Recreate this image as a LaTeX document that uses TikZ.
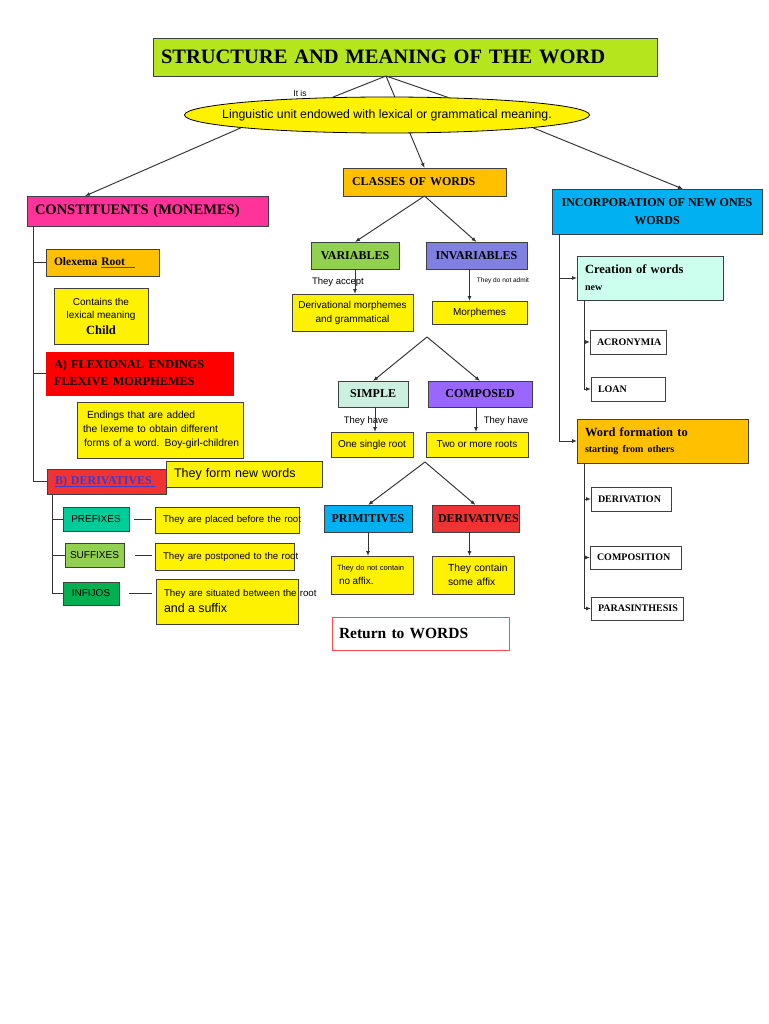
\documentclass[tikz,border=0pt]{standalone}
\usepackage{fontspec}
\setmainfont{Liberation Serif}
\setsansfont{Liberation Sans}
\usetikzlibrary{arrows.meta,shapes.geometric}

\definecolor{limeg}{RGB}{181,230,29}
\definecolor{magentab}{RGB}{255,51,153}
\definecolor{orangeb}{RGB}{255,192,0}
\definecolor{redb}{RGB}{255,0,0}
\definecolor{redc}{RGB}{240,50,50}
\definecolor{ulblue}{RGB}{60,60,210}
\definecolor{tealb}{RGB}{0,204,153}
\definecolor{lgreen}{RGB}{146,208,80}
\definecolor{dgreen}{RGB}{0,176,80}
\definecolor{purpb}{RGB}{128,128,224}
\definecolor{mintb}{RGB}{204,240,224}
\definecolor{violb}{RGB}{153,102,255}
\definecolor{skyb}{RGB}{0,176,240}
\definecolor{aquab}{RGB}{204,255,238}

\newcommand{\fsz}[2]{\fontsize{#1}{#2}\selectfont}
\newcommand{\bul}[1]{\setbox0=\hbox{#1}\rlap{\textcolor{ulblue}{\rule[-2.5pt]{\wd0}{0.7pt}}}#1}

\tikzset{
  box/.style={draw=black!75, line width=0.8pt, anchor=north west, inner sep=0pt, outer sep=0pt, font=\sffamily\fsz{10}{12}},
  hd/.style={font=\rmfamily\bfseries\fsz{#1}{#1}},
  conn/.style={draw=black!80, line width=0.95pt},
  arr/.style={conn, -{Latex[length=5pt,width=4pt]}},
  lbl/.style={inner sep=0pt, font=\sffamily\fsz{#1}{#1}},
}

\begin{document}
\begin{tikzpicture}[x=1pt, y=-1pt]
  \useasboundingbox[fill=white] (0,0) rectangle (768,1024);

  % top
  \node[box, fill=limeg, text width=488pt, inner xsep=8pt, align=left, minimum height=38pt, hd=20.5] (title) at (153,38) {STRUCTURE AND MEANING OF THE WORD};
  \node[box, fill=orangeb, text width=145pt, inner xsep=9pt, align=left, minimum height=28pt, hd=12] (classes) at (343,168) {CLASSES OF WORDS};
  \coordinate (tpt) at ([xshift=-19pt]title.south);
  \draw[arr] (tpt) -- (classes.north);
  \node[ellipse, draw=black, line width=0.8pt, fill=yellow, minimum width=405pt, minimum height=36pt, inner sep=0pt, font=\sffamily\fsz{12.3}{14}] (unit) at (387,115) {\makebox[0pt]{Linguistic unit endowed with lexical or grammatical meaning.}};
  \node[lbl=8.5] (itis) at (300,93) {It is};
  \draw[conn] (tpt) -- (unit.162);
  \draw[conn] (tpt) -- (unit.16);

  % constituents
  \node[box, fill=magentab, text width=225pt, inner xsep=8pt, align=left, minimum height=30pt, hd=14.5] (cons) at (27,196) {CONSTITUENTS (MONEMES)};
  \draw[arr] (unit.185) -- ([xshift=58pt]cons.north west);

  \node[box, fill=orangeb, text width=97pt, inner xsep=8pt, align=left, minimum height=27pt, hd=11.5] (root) at (46,249) {Olexema \bul{Root\hspace{10pt}}};
  \node[box, fill=yellow, minimum width=94pt, minimum height=56pt, align=center, font=\sffamily\fsz{10}{13}] (lexmean) at (54,288) {Contains the\\lexical meaning\\[3pt]{\rmfamily\bfseries\fsz{12.5}{14}Child}};
  \node[box, draw=redb, fill=redb, text width=171pt, inner xsep=8pt, align=left, minimum height=43pt, font=\rmfamily\bfseries\fsz{12.3}{17}] (flex) at (46,352) {A) FLEXIONAL ENDINGS\\F\bul{LEXIVE MORPHEMES\hspace{6pt}}};
  \node[box, fill=yellow, text width=154pt, inner xsep=6pt, align=left, minimum height=56pt, font=\sffamily\fsz{10.3}{14}] (endings) at (77,402) {\mbox{\hspace*{4pt}Endings that are added}\\\mbox{the lexeme to obtain different}\\\mbox{\hspace*{1pt}forms of a word. Boy-girl-children}};
  \node[box, fill=redc, text width=103pt, inner xsep=8pt, align=left, minimum height=25pt, hd=12] (bder) at (47,469) {\textcolor{ulblue}{\mbox{\bul{B) DERIVATIVES\hspace{3pt}}}}};
  \node[box, fill=yellow, text width=140pt, inner xsep=8pt, align=left, minimum height=26pt, font=\sffamily\fsz{12.5}{14}] (formnew) at (166,461) {They form new words};

  \coordinate (cstem) at ([xshift=6pt]cons.south west);
  \draw[conn] (cstem) |- (bder.west);
  \draw[conn] (cstem |- root.west) -- (root.west);
  \draw[conn] (cstem |- flex.west) -- (flex.west);

  \node[box, fill=tealb, minimum width=66pt, minimum height=24pt] (pre) at (63,507) {PREFIXES};
  \node[box, fill=lgreen, minimum width=59pt, minimum height=24pt] (suf) at (65,543) {SUFFIXES};
  \node[box, fill=dgreen, minimum width=56pt, minimum height=23pt] (inf) at (63,582) {INFIJOS};
  \node[box, fill=yellow, text width=128pt, inner xsep=8pt, align=left, minimum height=26pt, font=\sffamily\fsz{9.7}{11}] (placed) at (155,507) {\mbox{They are placed before the root}};
  \node[box, fill=yellow, text width=123pt, inner xsep=8pt, align=left, minimum height=27pt, font=\sffamily\fsz{9.7}{11}] (postp) at (155,543) {\mbox{They are postponed to the root}};
  \node[box, fill=yellow, text width=126pt, inner xsep=8pt, align=left, minimum height=45pt, font=\sffamily\fsz{9.7}{11}] (situ) at (156,579) {\mbox{They are situated between the root}\\[4pt]{\fsz{12.5}{14}and a suffix}};

  \coordinate (bstem) at ([xshift=5pt]bder.south west);
  \draw[conn] (bstem) |- (inf.west);
  \draw[conn] (bstem |- pre.west) -- (pre.west);
  \draw[conn] (bstem |- suf.west) -- (suf.west);
  \draw[conn, shorten <=5pt, shorten >=3pt] (pre.east) -- (pre.east -| placed.west);
  \draw[conn, shorten <=11pt, shorten >=3pt] (suf.east) -- (suf.east -| postp.west);
  \draw[conn, shorten <=10pt, shorten >=4pt] (inf.east) -- (inf.east -| situ.west);

  % classes of words
  \node[box, fill=lgreen, minimum width=88pt, minimum height=27pt, hd=12] (var) at (311,242) {VARIABLES};
  \node[box, fill=purpb, minimum width=101pt, minimum height=27pt, hd=12] (invar) at (426,242) {INVARIABLES};
  \draw[arr] (classes.south) -- (var.north);
  \draw[arr] (classes.south) -- (invar.north);
  \node[box, fill=yellow, minimum width=121pt, minimum height=37pt, align=center, font=\sffamily\fsz{10}{14}] (dermorph) at (292,294) {Derivational morphemes\\and grammatical};
  \node[box, fill=yellow, minimum width=95pt, minimum height=23pt] (morph) at (432,301) {Morphemes};
  \node[lbl=9.5] (accept) at (338,282) {They accept};
  \node[lbl=6.5] (admit) at (503,281) {They do not admit};
  \draw[arr] (var.south) -- (var.south |- dermorph.north);
  \draw[arr] ([xshift=-7pt]invar.south) -- ([xshift=-7pt]invar.south |- morph.north);

  \coordinate (split1) at (427,337);
  \node[box, fill=mintb, minimum width=70pt, minimum height=26pt, hd=12] (simple) at (338,381) {SIMPLE};
  \node[box, fill=violb, minimum width=104pt, minimum height=26pt, hd=12] (composed) at (428,381) {COMPOSED};
  \draw[arr] (split1) -- (simple.north);
  \draw[arr] (split1) -- (composed.north);
  \node[lbl=9.5] (have1) at (366,421) {They have};
  \node[lbl=9.5] (have2) at (506,421) {They have};
  \node[box, fill=yellow, minimum width=82pt, minimum height=25pt] (oneroot) at (331,432) {One single root};
  \node[box, fill=yellow, minimum width=102pt, minimum height=25pt] (tworoots) at (426,432) {Two or more roots};
  \draw[arr] ([xshift=2pt]simple.south) -- ([xshift=2pt]simple.south |- oneroot.north);
  \draw[arr] ([xshift=-4pt]composed.south) -- ([xshift=-4pt]composed.south |- tworoots.north);

  \coordinate (split2) at (425,462);
  \node[box, fill=skyb, minimum width=88pt, minimum height=27pt, hd=12] (prim) at (324,505) {PRIMITIVES};
  \node[box, fill=redc, text width=75pt, inner xsep=6pt, align=left, minimum height=27pt, hd=12] (derv) at (432,505) {\mbox{DERIVATIVES}};
  \draw[arr] (split2) -- (prim.north);
  \draw[arr] (split2) -- (derv.north);
  \node[box, fill=yellow, text width=70pt, inner xsep=6pt, align=left, minimum height=38pt, font=\sffamily\fsz{7.5}{14}] (noaffix) at (331,556) {\mbox{They do not contain}\\{\fsz{10}{12}\hspace*{2pt}no affix.}};
  \node[box, fill=yellow, text width=66pt, inner xsep=8pt, align=left, minimum height=38pt, font=\sffamily\fsz{10.3}{14}] (someaffix) at (432,556) {\mbox{\hspace*{8pt}They contain}\\\mbox{\hspace*{8pt}some affix}};
  \draw[arr] (prim.south) -- (prim.south |- noaffix.north);
  \draw[arr] ([xshift=-6pt]derv.south) -- ([xshift=-6pt]derv.south |- someaffix.north);

  \node[box, draw=red!70, line width=0.6pt, fill=white, text width=163pt, inner xsep=7pt, align=left, minimum height=33pt, hd=15.5] (ret) at (332,617) {Return to WORDS};

  % incorporation
  \node[box, fill=skyb, minimum width=210pt, minimum height=45pt, align=center, font=\rmfamily\bfseries\fsz{12}{18}] (inc) at (552,189) {INCORPORATION OF NEW ONES\\WORDS};
  \draw[arr] (unit.355) -- ([xshift=131pt]inc.north west);
  \node[box, fill=aquab, text width=130pt, inner xsep=8pt, align=left, minimum height=44pt, font=\rmfamily\bfseries\fsz{12.5}{17}] (crea) at (577,256) {Creation of words\\{\fsz{10}{12}new}};
  \node[box, fill=orangeb, text width=155pt, inner xsep=8pt, align=left, minimum height=44pt, font=\rmfamily\bfseries\fsz{12.5}{16}] (wf) at (577,419) {Word formation to\\{\fsz{10}{12}starting from others}};
  \coordinate (istem) at ([xshift=7pt]inc.south west);
  \draw[arr] (istem) |- (wf.west);
  \draw[arr] (istem |- crea.west) -- (crea.west);

  \node[box, fill=white, text width=62pt, inner xsep=7pt, align=left, minimum height=24pt, hd=10] (acr) at (590,330) {\mbox{ACRONYMIA}};
  \node[box, fill=white, text width=60pt, inner xsep=7pt, align=left, minimum height=24pt, hd=10] (loan) at (591,377) {LOAN};
  \coordinate (cstem2) at ([xshift=7pt]crea.south west);
  \draw[arr] (cstem2) |- (loan.west);
  \draw[arr] (cstem2 |- acr.west) -- (acr.west);

  \node[box, fill=white, text width=66pt, inner xsep=7pt, align=left, minimum height=24pt, hd=10] (derivn) at (591,487) {DERIVATION};
  \node[box, fill=white, text width=77pt, inner xsep=7pt, align=left, minimum height=23pt, hd=10] (compo) at (590,546) {COMPOSITION};
  \node[box, fill=white, text width=78pt, inner xsep=7pt, align=left, minimum height=23pt, hd=10] (para) at (591,597) {\mbox{PARASINTHESIS}};
  \coordinate (wstem) at ([xshift=7pt]wf.south west);
  \draw[arr] (wstem) |- (para.west);
  \draw[arr] (wstem |- derivn.west) -- (derivn.west);
  \draw[arr] (wstem |- compo.west) -- (compo.west);
\end{tikzpicture}
\end{document}
